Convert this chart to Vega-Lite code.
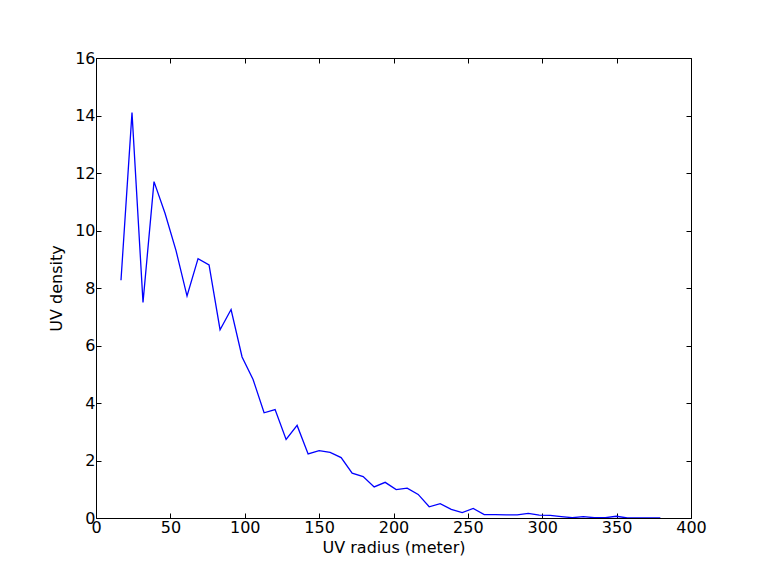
{
  "$schema": "https://vega.github.io/schema/vega-lite/v6.json",
  "width": 595,
  "height": 460,
  "autosize": {"type": "none"},
  "padding": {"left": 96, "top": 58, "right": 77, "bottom": 58},
  "background": "white",
  "config": {
    "font": "DejaVu Sans",
    "view": {"stroke": "black", "strokeWidth": 1},
    "axis": {
      "grid": false,
      "domain": false,
      "tickColor": "black",
      "tickSize": -5,
      "labelColor": "black",
      "titleColor": "black",
      "labelFont": "DejaVu Sans",
      "titleFont": "DejaVu Sans",
      "labelFontSize": 16,
      "titleFontSize": 16,
      "titleFontWeight": "normal"
    }
  },
  "data": {
    "values": [
      {"r": 16.8, "d": 8.27},
      {"r": 24.2, "d": 14.1},
      {"r": 31.6, "d": 7.5},
      {"r": 39.0, "d": 11.7},
      {"r": 46.4, "d": 10.6},
      {"r": 53.8, "d": 9.3},
      {"r": 61.2, "d": 7.72},
      {"r": 68.6, "d": 9.02},
      {"r": 76.0, "d": 8.8},
      {"r": 83.4, "d": 6.55},
      {"r": 90.8, "d": 7.25},
      {"r": 98.2, "d": 5.6},
      {"r": 105.6, "d": 4.82},
      {"r": 113.0, "d": 3.66},
      {"r": 120.4, "d": 3.77},
      {"r": 127.8, "d": 2.73},
      {"r": 135.2, "d": 3.22},
      {"r": 142.6, "d": 2.23},
      {"r": 150.0, "d": 2.34},
      {"r": 157.4, "d": 2.28},
      {"r": 164.8, "d": 2.1},
      {"r": 172.2, "d": 1.56},
      {"r": 179.6, "d": 1.44},
      {"r": 187.0, "d": 1.08},
      {"r": 194.4, "d": 1.24},
      {"r": 201.8, "d": 0.99},
      {"r": 209.2, "d": 1.04},
      {"r": 216.6, "d": 0.82},
      {"r": 224.0, "d": 0.39},
      {"r": 231.4, "d": 0.5},
      {"r": 238.8, "d": 0.3},
      {"r": 246.2, "d": 0.19},
      {"r": 253.6, "d": 0.33},
      {"r": 261.0, "d": 0.12},
      {"r": 268.4, "d": 0.12},
      {"r": 275.8, "d": 0.11},
      {"r": 283.2, "d": 0.11},
      {"r": 290.6, "d": 0.16},
      {"r": 298.0, "d": 0.1},
      {"r": 305.4, "d": 0.09},
      {"r": 312.8, "d": 0.05},
      {"r": 320.2, "d": 0.01},
      {"r": 327.6, "d": 0.05},
      {"r": 335.0, "d": 0.01},
      {"r": 342.4, "d": 0.01},
      {"r": 349.8, "d": 0.06},
      {"r": 357.2, "d": 0.0},
      {"r": 364.6, "d": 0.0},
      {"r": 372.0, "d": 0.0},
      {"r": 379.4, "d": 0.0}
    ]
  },
  "layer": [
    {
      "mark": {"type": "line", "color": "#0000ff", "strokeWidth": 1.3, "clip": true},
      "encoding": {
        "x": {
          "field": "r", "type": "quantitative",
          "scale": {"domain": [0, 400], "nice": false, "zero": false},
          "axis": {"orient": "bottom", "title": "UV radius (meter)", "values": [0, 50, 100, 150, 200, 250, 300, 350, 400], "labelPadding": 6, "titlePadding": 4, "labelFlush": false}
        },
        "y": {
          "field": "d", "type": "quantitative",
          "scale": {"domain": [0, 16], "nice": false, "zero": false},
          "axis": {"orient": "left", "title": "UV density", "values": [0, 2, 4, 6, 8, 10, 12, 14, 16], "labelPadding": 6, "titlePadding": 10, "labelFlush": false}
        }
      }
    },
    {
      "mark": {"type": "line", "opacity": 0},
      "encoding": {
        "x": {
          "field": "r", "type": "quantitative",
          "axis": {"orient": "top", "title": null, "labels": false, "values": [0, 50, 100, 150, 200, 250, 300, 350, 400]}
        },
        "y": {
          "field": "d", "type": "quantitative",
          "axis": {"orient": "right", "title": null, "labels": false, "values": [0, 2, 4, 6, 8, 10, 12, 14, 16]}
        }
      }
    }
  ],
  "resolve": {"axis": {"x": "independent", "y": "independent"}}
}
